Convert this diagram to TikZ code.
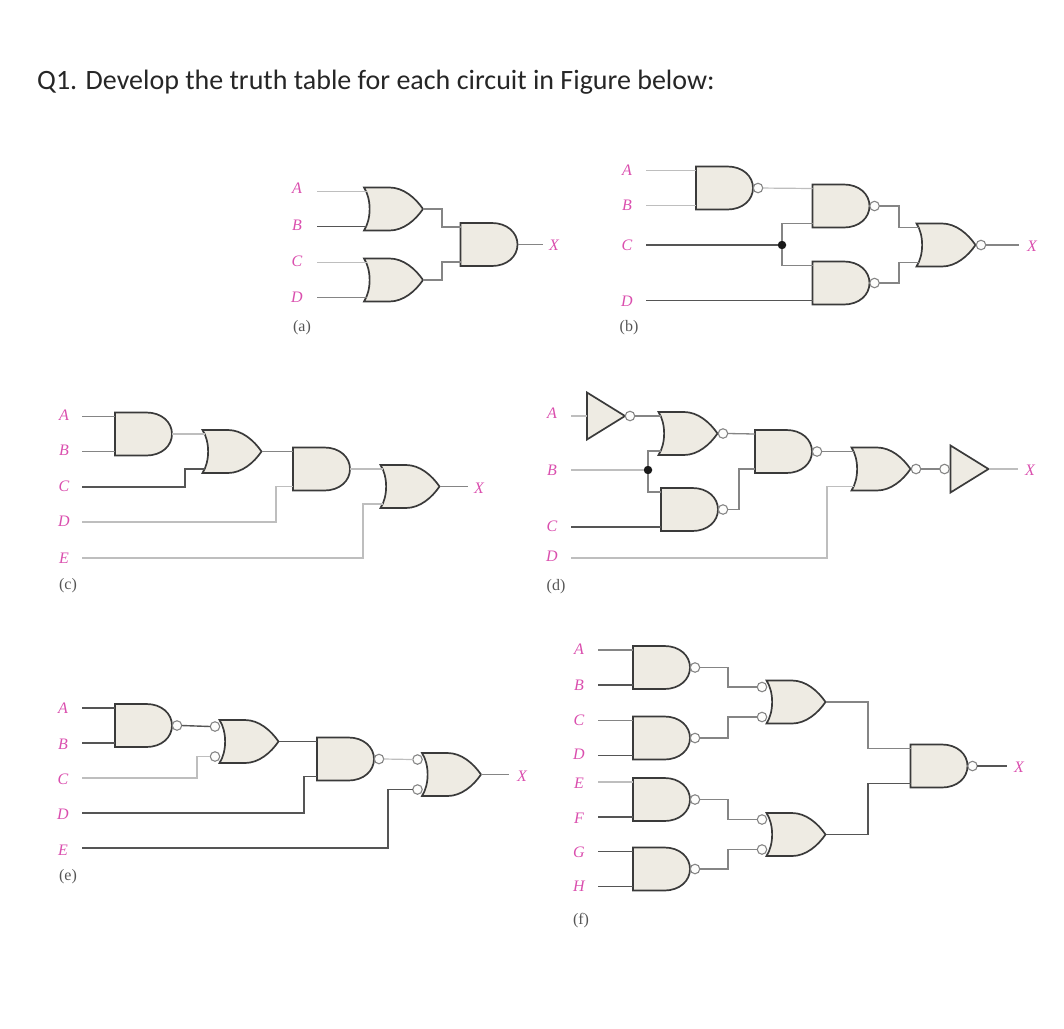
\documentclass[tikz,border=0pt]{standalone}
\usepackage{fontspec}
\setmainfont{Liberation Serif}
\newfontfamily\ttlfont{Carlito}
\makeatletter
\pgfdeclareshape{andgate}{
  \savedanchor\gatecentre{\pgfpointorigin}
  \anchor{center}{\gatecentre}
  \anchor{text}{\gatecentre}
  \anchor{i1}{\pgfpoint{-28.5pt}{17.5pt}}
  \anchor{i2}{\pgfpoint{-28.5pt}{-17.5pt}}
  \anchor{o}{\pgfpoint{28.5pt}{0pt}}
  \anchor{bo}{\pgfpoint{33.5pt}{0pt}}
  \backgroundpath{
    \pgfpathmoveto{\pgfpoint{-28.5pt}{21.5pt}}
    \pgfpathlineto{\pgfpoint{3pt}{21.5pt}}
    \pgfpathcurveto{\pgfpoint{18pt}{21.5pt}}{\pgfpoint{28.5pt}{12pt}}{\pgfpoint{28.5pt}{0pt}}
    \pgfpathcurveto{\pgfpoint{28.5pt}{-12pt}}{\pgfpoint{18pt}{-21.5pt}}{\pgfpoint{3pt}{-21.5pt}}
    \pgfpathlineto{\pgfpoint{-28.5pt}{-21.5pt}}
    \pgfpathclose
  }
}
\pgfdeclareshape{orgate}{
  \savedanchor\gatecentre{\pgfpointorigin}
  \anchor{center}{\gatecentre}
  \anchor{text}{\gatecentre}
  \anchor{i1}{\pgfpoint{-27pt}{17.5pt}}
  \anchor{i2}{\pgfpoint{-27pt}{-17.5pt}}
  \anchor{b1}{\pgfpoint{-34pt}{15pt}}
  \anchor{b2}{\pgfpoint{-34pt}{-15pt}}
  \anchor{o}{\pgfpoint{29.5pt}{0pt}}
  \anchor{bo}{\pgfpoint{35pt}{0pt}}
  \backgroundpath{
    \pgfpathmoveto{\pgfpoint{-29.5pt}{21.5pt}}
    \pgfpathlineto{\pgfpoint{-4pt}{21.5pt}}
    \pgfpathcurveto{\pgfpoint{10pt}{21.5pt}}{\pgfpoint{22pt}{11pt}}{\pgfpoint{29.5pt}{0pt}}
    \pgfpathcurveto{\pgfpoint{22pt}{-11pt}}{\pgfpoint{10pt}{-21.5pt}}{\pgfpoint{-4pt}{-21.5pt}}
    \pgfpathlineto{\pgfpoint{-29.5pt}{-21.5pt}}
    \pgfpathcurveto{\pgfpoint{-22pt}{-10pt}}{\pgfpoint{-22pt}{10pt}}{\pgfpoint{-29.5pt}{21.5pt}}
    \pgfpathclose
  }
}
\pgfdeclareshape{notgate}{
  \savedanchor\gatecentre{\pgfpointorigin}
  \anchor{center}{\gatecentre}
  \anchor{text}{\gatecentre}
  \anchor{i}{\pgfpoint{-19pt}{0pt}}
  \anchor{o}{\pgfpoint{19pt}{0pt}}
  \anchor{bo}{\pgfpoint{24pt}{0pt}}
  \anchor{bi}{\pgfpoint{-25pt}{0pt}}
  \backgroundpath{
    \pgfpathmoveto{\pgfpoint{-19pt}{23.5pt}}
    \pgfpathlineto{\pgfpoint{19pt}{0pt}}
    \pgfpathlineto{\pgfpoint{-19pt}{-23.5pt}}
    \pgfpathclose
  }
}
\makeatother
\definecolor{gatefill}{HTML}{EEEBE3}
\definecolor{gateline}{HTML}{3A3A3A}
\definecolor{labmag}{HTML}{DA4FAE}
\definecolor{capcol}{HTML}{555555}
\definecolor{wlight}{HTML}{BEBEBE}
\definecolor{wmid}{HTML}{858585}
\definecolor{wdark}{HTML}{555555}
\tikzset{
  gatebase/.style={draw=gateline,fill=gatefill,line width=1.7pt,inner sep=0pt,outer sep=0pt},
  gand/.style={gatebase,shape=andgate},
  gor/.style={gatebase,shape=orgate},
  gnot/.style={gatebase,shape=notgate},
  bub/.style={circle,draw=wmid,fill=white!90!gatefill,line width=1.1pt,minimum size=9.5pt,inner sep=0pt,outer sep=0pt},
  jdot/.style={circle,fill=black!90,minimum size=8.5pt,inner sep=0pt},
  lab/.style={text=labmag,font=\fontsize{16}{16}\selectfont\itshape,inner sep=0pt},
  capt/.style={text=capcol,font=\fontsize{16}{16}\selectfont,inner sep=0pt},
  wl/.style={draw=wlight,line width=1.2pt},
  wm/.style={draw=wmid,line width=1.3pt},
  wd/.style={draw=wdark,line width=1.4pt},
  ttl/.style={anchor=base west,inner sep=0pt,text=black!85,font=\fontsize{28}{28}\selectfont\ttlfont}
}
\newcommand\route[4][wm]{\draw[#1] (#2) -- (#2 -| #4) -- (#3 -| #4) -- (#3);}
\begin{document}
\begin{tikzpicture}[x=1pt,y=-1pt]
\useasboundingbox (0,0) rectangle (1064,1028);
\node[ttl] (title) at (37,89) {Q1. Develop the truth table for each circuit in Figure below:};

%% (a)
\node[lab] (aAl) at (297,188) {A};
\node[lab] (aBl) at (297,225) {B};
\node[lab] (aCl) at (297,261) {C};
\node[lab] (aDl) at (297,297) {D};
\node[lab] (aXl) at (554,245) {X};
\node[capt] (acap) at (302,328) {(a)};
\node[gor] (ao1) at (393.5,209) {};
\node[gor] (ao2) at (393.5,280) {};
\node[gand] (aa) at (489,244.5) {};
\coordinate (aA) at (317,191.5);
\coordinate (aB) at (317,226.5);
\coordinate (aC) at (317,262.5);
\coordinate (aD) at (317,297.5);
\coordinate (aX) at (543,244.5);
\coordinate (am) at (442,244);
\draw[wl] (aA) -- (ao1.i1);
\draw[wd] (aB) -- (ao1.i2);
\draw[wl] (aC) -- (ao2.i1);
\draw[wm] (aD) -- (ao2.i2);
\route{ao1.o}{aa.i1}{am}
\route{ao2.o}{aa.i2}{am}
\draw[wm] (aa.o) -- (aX);

%% (b)
\node[lab] (bAl) at (627,170) {A};
\node[lab] (bBl) at (627,205) {B};
\node[lab] (bCl) at (627,245) {C};
\node[lab] (bDl) at (627,301) {D};
\node[lab] (bXl) at (1032,246) {X};
\node[capt] (bcap) at (629,328) {(b)};
\node[gand] (bn1) at (724.5,188) {};
\node[gand] (bn2) at (841,206) {};
\node[gand] (bn3) at (841,283) {};
\node[gor] (bnr) at (946,245) {};
\node[bub] (bb1) at (bn1.bo) {};
\node[bub] (bb2) at (bn2.bo) {};
\node[bub] (bb3) at (bn3.bo) {};
\node[bub] (bb4) at (bnr.bo) {};
\node[jdot] (bJ) at (782,245) {};
\coordinate (bA) at (646,170.5);
\coordinate (bB) at (646,205.5);
\coordinate (bC) at (646,245);
\coordinate (bD) at (646,300.5);
\coordinate (bX) at (1019,245);
\coordinate (bm) at (899,245);
\draw[wl] (bA) -- (bn1.i1);
\draw[wl] (bB) -- (bn1.i2);
\draw[wd] (bC) -- (bJ);
\draw[wd] (bD) -- (bn3.i2);
\draw[wl] (bb1) -- (bn2.i1);
\draw[wm] (bJ) |- (bn2.i2);
\draw[wm] (bJ) |- (bn3.i1);
\route{bb2.east}{bnr.i1}{bm}
\route{bb3.east}{bnr.i2}{bm}
\draw[wm] (bb4.east) -- (bX);

%% (c)
\node[lab] (cAl) at (64,415) {A};
\node[lab] (cBl) at (64,450) {B};
\node[lab] (cCl) at (64,486) {C};
\node[lab] (cDl) at (64,521) {D};
\node[lab] (cEl) at (64,558) {E};
\node[lab] (cXl) at (479,488) {X};
\node[capt] (ccap) at (68,586) {(c)};
\node[gand] (ca1) at (143.5,434) {};
\node[gor] (co1) at (232,451.5) {};
\node[gand] (ca2) at (321.5,469) {};
\node[gor] (co2) at (410,486.5) {};
\coordinate (cA) at (82,416.5);
\coordinate (cB) at (82,451.5);
\coordinate (cC) at (82,487);
\coordinate (cD) at (82,522);
\coordinate (cE) at (82,558);
\coordinate (cX) at (468,486.5);
\coordinate (cm1) at (185,480);
\coordinate (cm2) at (276,500);
\coordinate (cm3) at (363,530);
\draw[wm] (cA) -- (ca1.i1);
\draw[wm] (cB) -- (ca1.i2);
\draw[wd] (cC) -| (cm1) |- (co1.i2);
\draw[wl] (cD) -| (cm2) |- (ca2.i2);
\draw[wl] (cE) -| (cm3) |- (co2.i2);
\draw[wl] (ca1.o) -- (co1.i1);
\draw[wm] (co1.o) -- (ca2.i1);
\draw[wl] (ca2.o) -- (co2.i1);
\draw[wm] (co2.o) -- (cX);

%% (d)
\node[lab] (dAl) at (552,413) {A};
\node[lab] (dBl) at (552,470) {B};
\node[lab] (dCl) at (552,526) {C};
\node[lab] (dDl) at (552,556) {D};
\node[lab] (dXl) at (1030,470) {X};
\node[capt] (dcap) at (556,587) {(d)};
\node[gnot] (dn1) at (606,416) {};
\node[gor] (dr1) at (688,433.5) {};
\node[gand] (dn2) at (689.5,509.5) {};
\node[gand] (dn3) at (783.5,451.5) {};
\node[gor] (dr2) at (881,469) {};
\node[gnot] (dn4) at (969.5,469) {};
\node[bub] (db1) at (dn1.bo) {};
\node[bub] (db2) at (dr1.bo) {};
\node[bub] (db3) at (dn2.bo) {};
\node[bub] (db4) at (dn3.bo) {};
\node[bub] (db5) at (dr2.bo) {};
\node[bub] (db6) at (dn4.bi) {};
\node[jdot] (dJ) at (648,470) {};
\coordinate (dA) at (571,416);
\coordinate (dB) at (571,470);
\coordinate (dC) at (571,527);
\coordinate (dD) at (571,558);
\coordinate (dX) at (1018,469);
\coordinate (dm1) at (739,480);
\coordinate (dm2) at (827,520);
\draw[wl] (dA) -- (dn1.i);
\draw[wm] (db1.east) -- (dr1.i1);
\draw[wl] (dB) -- (dJ);
\draw[wm] (dJ) |- (dr1.i2);
\draw[wm] (dJ) |- (dn2.i1);
\draw[wd] (dC) -- (dn2.i2);
\draw[wm] (db2.east) -- (dn3.i1);
\route{db3.east}{dn3.i2}{dm1}
\draw[wm] (db4.east) -- (dr2.i1);
\draw[wl] (dD) -| (dm2) |- (dr2.i2);
\draw[wm] (db5.east) -- (db6.west);
\draw[wl] (dn4.o) -- (dX);

%% (e)
\node[lab] (eAl) at (63,708) {A};
\node[lab] (eBl) at (63,744) {B};
\node[lab] (eCl) at (63,779) {C};
\node[lab] (eDl) at (63,814) {D};
\node[lab] (eEl) at (63,850) {E};
\node[lab] (eXl) at (522,776) {X};
\node[capt] (ecap) at (68,877) {(e)};
\node[gand] (en1) at (143.5,725.5) {};
\node[gor] (er1) at (249,741.5) {};
\node[gand] (en2) at (345.5,759) {};
\node[gor] (er2) at (451.5,774.5) {};
\node[bub] (eb1) at (en1.bo) {};
\node[bub] (eb2) at (er1.b1) {};
\node[bub] (eb3) at (er1.b2) {};
\node[bub] (eb4) at (en2.bo) {};
\node[bub] (eb5) at (er2.b1) {};
\node[bub] (eb6) at (er2.b2) {};
\coordinate (eA) at (82,708);
\coordinate (eB) at (82,743);
\coordinate (eC) at (82,778);
\coordinate (eD) at (82,813);
\coordinate (eE) at (82,848);
\coordinate (eX) at (509,774.5);
\coordinate (em1) at (197,770);
\coordinate (em2) at (304,790);
\coordinate (em3) at (388,820);
\draw[wd] (eA) -- (en1.i1);
\draw[wd] (eB) -- (en1.i2);
\draw[wd] (eb1.east) -- (eb2.west);
\draw[wl] (eC) -| (em1) |- (eb3.west);
\draw[wd] (er1.o) -- (en2.i1);
\draw[wd] (eD) -| (em2) |- (en2.i2);
\draw[wl] (eb4.east) -- (eb5.west);
\draw[wd] (eE) -| (em3) |- (eb6.west);
\draw[wm] (er2.o) -- (eX);

%% (f)
\node[lab] (fAl) at (579,649) {A};
\node[lab] (fBl) at (579,685) {B};
\node[lab] (fCl) at (579,720) {C};
\node[lab] (fDl) at (579,754) {D};
\node[lab] (fEl) at (579,783) {E};
\node[lab] (fFl) at (579,818) {F};
\node[lab] (fGl) at (579,852) {G};
\node[lab] (fHl) at (579,886) {H};
\node[lab] (fXl) at (1019,767) {X};
\node[capt] (fcap) at (581,921) {(f)};
\node[gand] (fn1) at (661.5,667.5) {};
\node[gand] (fn2) at (661.5,738) {};
\node[gand] (fn3) at (661.5,799.5) {};
\node[gand] (fn4) at (661.5,869) {};
\node[gor] (fr1) at (796,702) {};
\node[gor] (fr2) at (796,834.5) {};
\node[gand] (fn5) at (939,766) {};
\node[bub] (fb1) at (fn1.bo) {};
\node[bub] (fb2) at (fn2.bo) {};
\node[bub] (fb3) at (fn3.bo) {};
\node[bub] (fb4) at (fn4.bo) {};
\node[bub] (fb5) at (fr1.b1) {};
\node[bub] (fb6) at (fr1.b2) {};
\node[bub] (fb7) at (fr2.b1) {};
\node[bub] (fb8) at (fr2.b2) {};
\node[bub] (fb9) at (fn5.bo) {};
\coordinate (fA) at (598,650);
\coordinate (fB) at (598,685);
\coordinate (fC) at (598,720.5);
\coordinate (fD) at (598,755.5);
\coordinate (fE) at (598,782);
\coordinate (fF) at (598,817);
\coordinate (fG) at (598,851.5);
\coordinate (fH) at (598,886.5);
\coordinate (fX) at (1007,766);
\coordinate (fm1) at (728,700);
\coordinate (fm2) at (868,760);
\draw[wm] (fA) -- (fn1.i1);
\draw[wd] (fB) -- (fn1.i2);
\draw[wm] (fC) -- (fn2.i1);
\draw[wd] (fD) -- (fn2.i2);
\draw[wl] (fE) -- (fn3.i1);
\draw[wd] (fF) -- (fn3.i2);
\draw[wd] (fG) -- (fn4.i1);
\draw[wd] (fH) -- (fn4.i2);
\route{fb1.east}{fb5.west}{fm1}
\route{fb2.east}{fb6.west}{fm1}
\route{fb3.east}{fb7.west}{fm1}
\route{fb4.east}{fb8.west}{fm1}
\route{fr1.o}{fn5.i1}{fm2}
\route[wd]{fr2.o}{fn5.i2}{fm2}
\draw[wd] (fb9.east) -- (fX);
\end{tikzpicture}
\end{document}
